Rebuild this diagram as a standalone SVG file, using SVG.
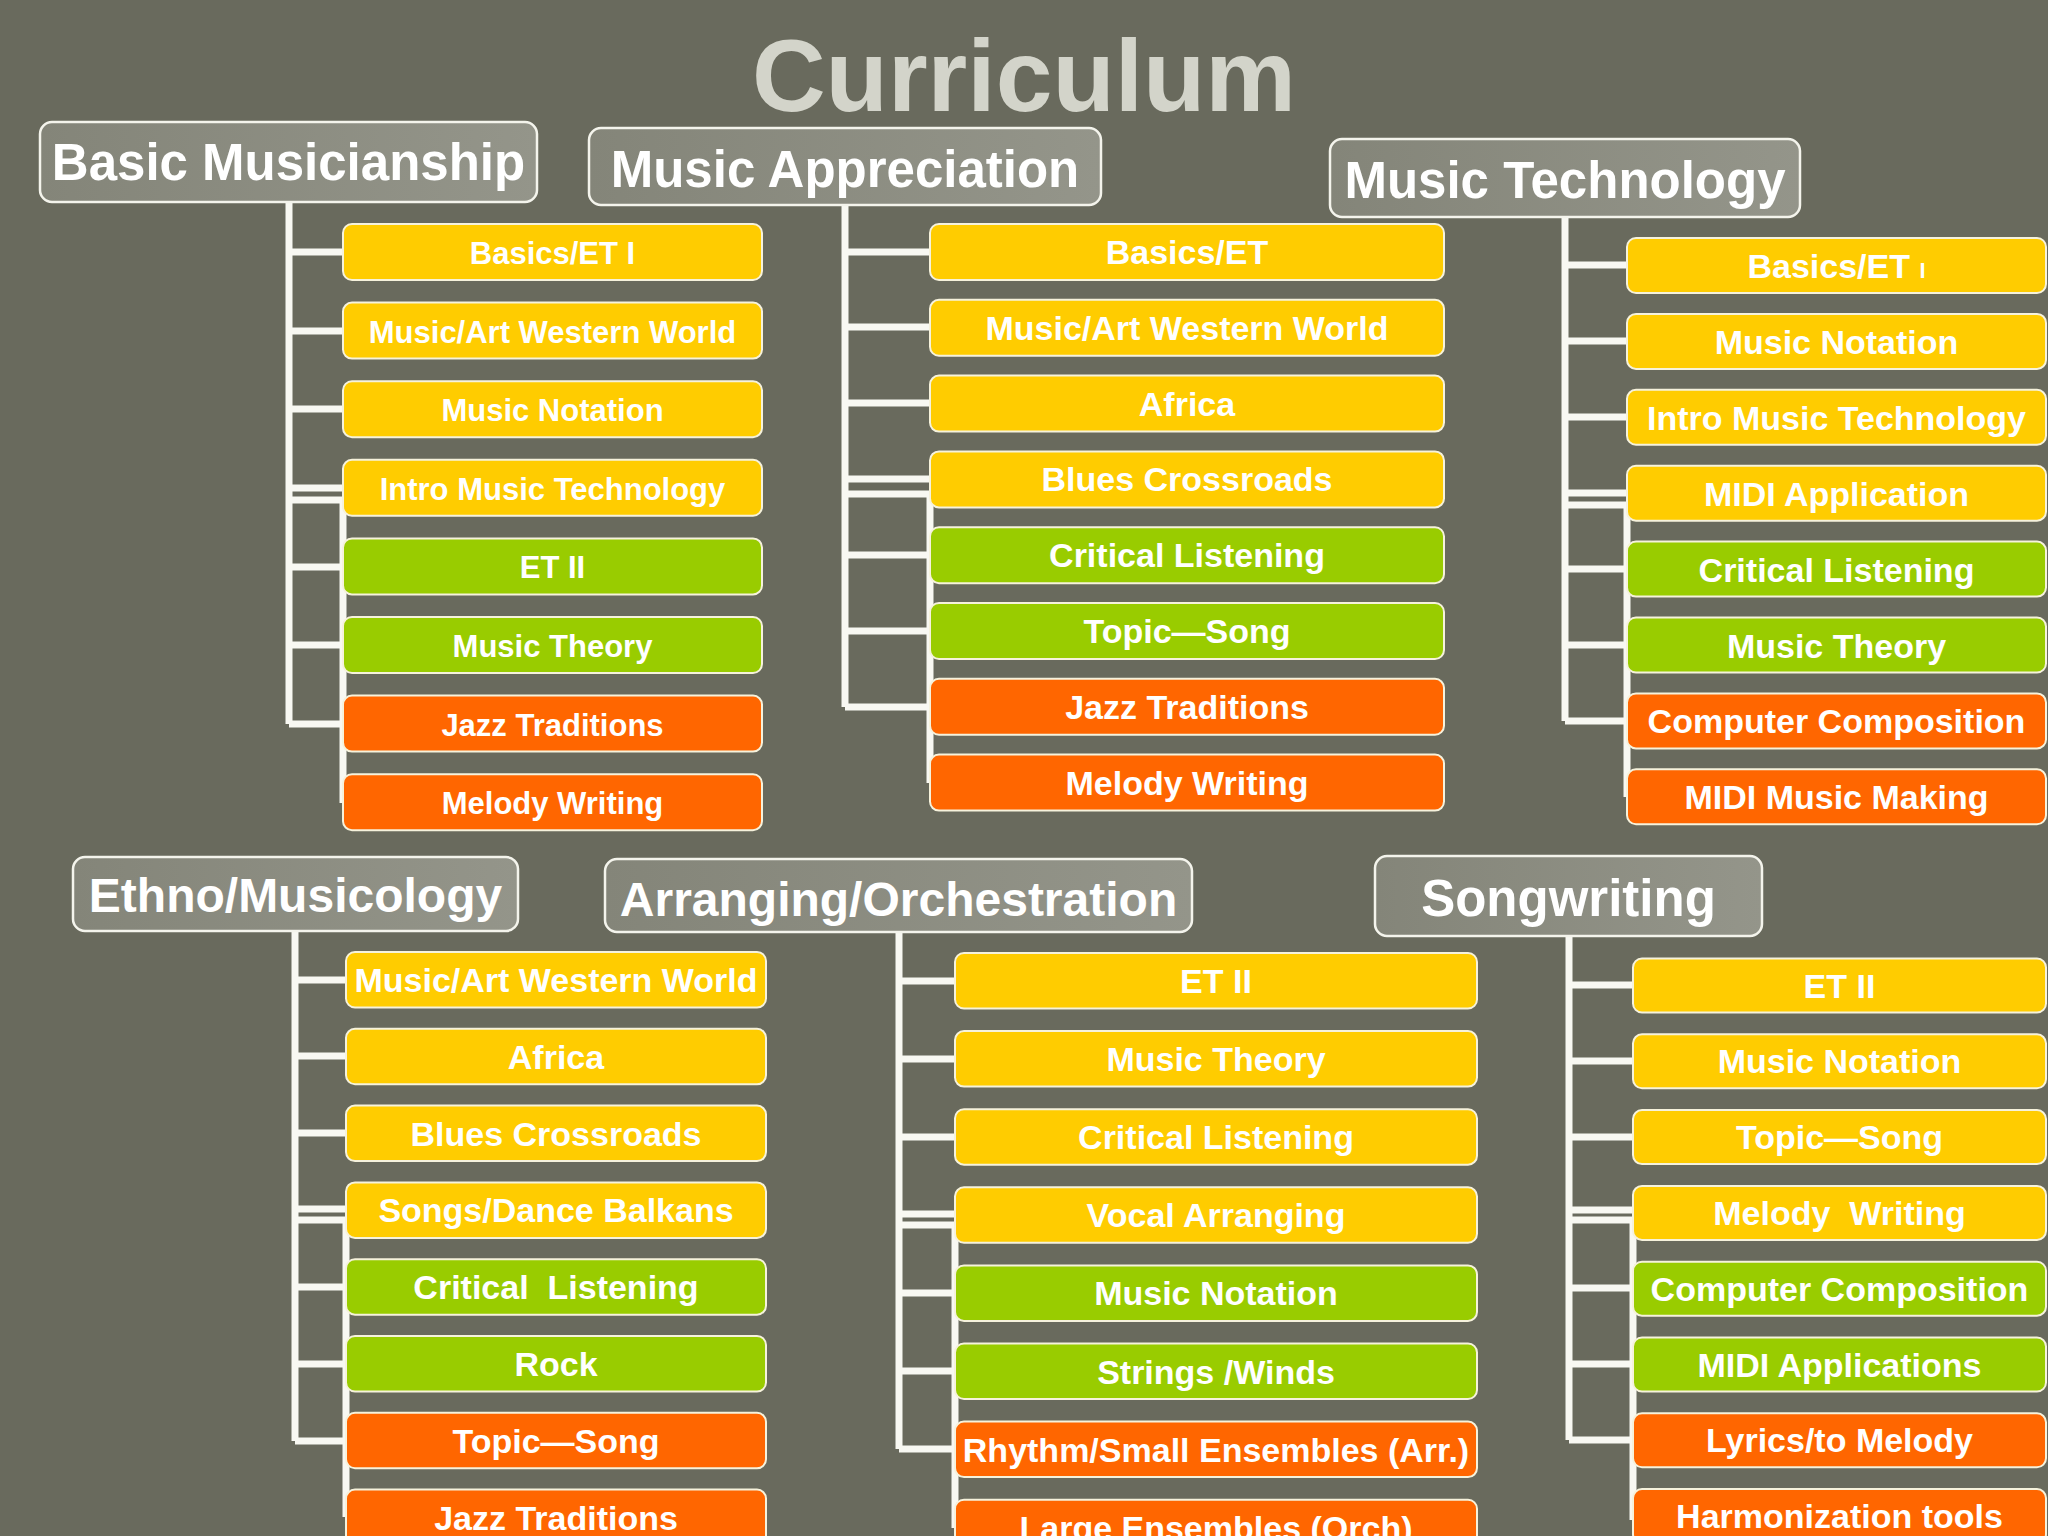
<svg xmlns="http://www.w3.org/2000/svg" width="2048" height="1536" viewBox="0 0 2048 1536">
<defs>
<linearGradient id="hg" x1="0" y1="0" x2="1" y2="0">
<stop offset="0" stop-color="#848579"/>
<stop offset="1" stop-color="#94958a"/>
</linearGradient>
<style>
.bg{fill:#696a5d}
.title{font-family:"Liberation Sans",Arial,sans-serif;font-weight:bold;font-size:102px;fill:#d3d4ca;text-anchor:middle}
.hd rect{fill:url(#hg);stroke:#f4f4ec;stroke-width:2.5}
.hd text{font-family:"Liberation Sans",Arial,sans-serif;font-weight:bold;fill:#ffffff;text-anchor:middle}
.it rect{stroke:#f6f2dc;stroke-width:2}
.it text{font-family:"Liberation Sans",Arial,sans-serif;font-weight:bold;fill:#ffffff;text-anchor:middle;white-space:pre}
.y rect{fill:#ffcc00}
.g rect{fill:#99cc00}
.o rect{fill:#ff6600}
.c31 text{font-size:31px}
.c34 text{font-size:34px}
#connectors path{fill:none;stroke:#f8f8f2;stroke-width:7}
</style>
</defs>
<rect class="bg" x="0" y="0" width="2048" height="1536"/>
<text class="title" x="1024" y="111">Curriculum</text>

<g id="connectors">
<path d="M289 202V724M289 252H343M289 331H343M289 409H343M289 488H343M289 567H343M289 645H343M289 724H343M289 500H343M343 500V803"/>
<path d="M845 205V707M845 252H930M845 327H930M845 403H930M845 479H930M845 555H930M845 631H930M845 707H930M845 494H930M930 494V783"/>
<path d="M1565 217V721M1565 265H1627M1565 341H1627M1565 417H1627M1565 493H1627M1565 569H1627M1565 645H1627M1565 721H1627M1565 505H1627M1627 505V797"/>
<path d="M295 931V1441M295 980H346M295 1056H346M295 1133H346M295 1209H346M295 1287H346M295 1364H346M295 1441H346M295 1220H346M346 1220V1517"/>
<path d="M899 932V1449M899 981H955M899 1059H955M899 1137H955M899 1214H955M899 1293H955M899 1371H955M899 1449H955M899 1225H955M955 1225V1528"/>
<path d="M1569 936V1440M1569 985H1633M1569 1061H1633M1569 1137H1633M1569 1210H1633M1569 1288H1633M1569 1364H1633M1569 1440H1633M1569 1220H1633M1633 1220V1520"/>
</g>

<g id="basic-musicianship" class="hd"><rect x="40" y="122" width="497" height="80" rx="12"/><text x="288.5" y="180" font-size="51">Basic Musicianship</text></g>
<g id="bm-items" class="c31">
<g id="bm1" class="it y"><rect x="343" y="224" width="419" height="56" rx="9"/><text x="552.5" y="264">Basics/ET I</text></g>
<g id="bm2" class="it y"><rect x="343" y="302.6" width="419" height="56" rx="9"/><text x="552.5" y="342.6">Music/Art Western World</text></g>
<g id="bm3" class="it y"><rect x="343" y="381.2" width="419" height="56" rx="9"/><text x="552.5" y="421.2">Music Notation</text></g>
<g id="bm4" class="it y"><rect x="343" y="459.8" width="419" height="56" rx="9"/><text x="552.5" y="499.8">Intro Music Technology</text></g>
<g id="bm5" class="it g"><rect x="343" y="538.4" width="419" height="56" rx="9"/><text x="552.5" y="578.4">ET II</text></g>
<g id="bm6" class="it g"><rect x="343" y="617" width="419" height="56" rx="9"/><text x="552.5" y="657">Music Theory</text></g>
<g id="bm7" class="it o"><rect x="343" y="695.6" width="419" height="56" rx="9"/><text x="552.5" y="735.6">Jazz Traditions</text></g>
<g id="bm8" class="it o"><rect x="343" y="774.2" width="419" height="56" rx="9"/><text x="552.5" y="814.2">Melody Writing</text></g>
</g>

<g id="music-appreciation" class="hd"><rect x="589" y="128" width="512" height="77" rx="12"/><text x="845" y="187" font-size="51">Music Appreciation</text></g>
<g id="ma-items" class="c34">
<g id="ma1" class="it y"><rect x="930" y="224" width="514" height="56" rx="9"/><text x="1187" y="264">Basics/ET</text></g>
<g id="ma2" class="it y"><rect x="930" y="299.8" width="514" height="56" rx="9"/><text x="1187" y="339.8">Music/Art Western World</text></g>
<g id="ma3" class="it y"><rect x="930" y="375.6" width="514" height="56" rx="9"/><text x="1187" y="415.6">Africa</text></g>
<g id="ma4" class="it y"><rect x="930" y="451.4" width="514" height="56" rx="9"/><text x="1187" y="491.4">Blues Crossroads</text></g>
<g id="ma5" class="it g"><rect x="930" y="527.2" width="514" height="56" rx="9"/><text x="1187" y="567.2">Critical Listening</text></g>
<g id="ma6" class="it g"><rect x="930" y="603" width="514" height="56" rx="9"/><text x="1187" y="643">Topic—Song</text></g>
<g id="ma7" class="it o"><rect x="930" y="678.8" width="514" height="56" rx="9"/><text x="1187" y="718.8">Jazz Traditions</text></g>
<g id="ma8" class="it o"><rect x="930" y="754.6" width="514" height="56" rx="9"/><text x="1187" y="794.6">Melody Writing</text></g>
</g>

<g id="music-technology" class="hd"><rect x="1330" y="139" width="470" height="78" rx="12"/><text x="1565" y="198" font-size="51">Music Technology</text></g>
<g id="mt-items" class="c34">
<g id="mt1" class="it y"><rect x="1627" y="238" width="419" height="55" rx="9"/><text x="1836.5" y="278">Basics/ET <tspan font-size="22">I</tspan></text></g>
<g id="mt2" class="it y"><rect x="1627" y="313.9" width="419" height="55" rx="9"/><text x="1836.5" y="353.9">Music Notation</text></g>
<g id="mt3" class="it y"><rect x="1627" y="389.8" width="419" height="55" rx="9"/><text x="1836.5" y="429.8">Intro Music Technology</text></g>
<g id="mt4" class="it y"><rect x="1627" y="465.7" width="419" height="55" rx="9"/><text x="1836.5" y="505.7">MIDI Application</text></g>
<g id="mt5" class="it g"><rect x="1627" y="541.6" width="419" height="55" rx="9"/><text x="1836.5" y="581.6">Critical Listening</text></g>
<g id="mt6" class="it g"><rect x="1627" y="617.5" width="419" height="55" rx="9"/><text x="1836.5" y="657.5">Music Theory</text></g>
<g id="mt7" class="it o"><rect x="1627" y="693.4" width="419" height="55" rx="9"/><text x="1836.5" y="733.4">Computer Composition</text></g>
<g id="mt8" class="it o"><rect x="1627" y="769.3" width="419" height="55" rx="9"/><text x="1836.5" y="809.3">MIDI Music Making</text></g>
</g>

<g id="ethno-musicology" class="hd"><rect x="73" y="857" width="445" height="74" rx="12"/><text x="295.5" y="912" font-size="48">Ethno/Musicology</text></g>
<g id="em-items" class="c34">
<g id="em1" class="it y"><rect x="346" y="952" width="420" height="55.5" rx="9"/><text x="556" y="992">Music/Art Western World</text></g>
<g id="em2" class="it y"><rect x="346" y="1028.8" width="420" height="55.5" rx="9"/><text x="556" y="1068.8">Africa</text></g>
<g id="em3" class="it y"><rect x="346" y="1105.6" width="420" height="55.5" rx="9"/><text x="556" y="1145.6">Blues Crossroads</text></g>
<g id="em4" class="it y"><rect x="346" y="1182.4" width="420" height="55.5" rx="9"/><text x="556" y="1222.4">Songs/Dance Balkans</text></g>
<g id="em5" class="it g"><rect x="346" y="1259.2" width="420" height="55.5" rx="9"/><text x="556" y="1299.2" xml:space="preserve">Critical  Listening</text></g>
<g id="em6" class="it g"><rect x="346" y="1336" width="420" height="55.5" rx="9"/><text x="556" y="1376">Rock</text></g>
<g id="em7" class="it o"><rect x="346" y="1412.8" width="420" height="55.5" rx="9"/><text x="556" y="1452.8">Topic—Song</text></g>
<g id="em8" class="it o"><rect x="346" y="1489.6" width="420" height="55.5" rx="9"/><text x="556" y="1529.6">Jazz Traditions</text></g>
</g>

<g id="arranging-orchestration" class="hd"><rect x="605" y="859" width="587" height="73" rx="12"/><text x="898.5" y="915.5" font-size="48">Arranging/Orchestration</text></g>
<g id="ao-items" class="c34">
<g id="ao1" class="it y"><rect x="955" y="953" width="522" height="55.5" rx="9"/><text x="1216" y="993">ET II</text></g>
<g id="ao2" class="it y"><rect x="955" y="1031.1" width="522" height="55.5" rx="9"/><text x="1216" y="1071.1">Music Theory</text></g>
<g id="ao3" class="it y"><rect x="955" y="1109.2" width="522" height="55.5" rx="9"/><text x="1216" y="1149.2">Critical Listening</text></g>
<g id="ao4" class="it y"><rect x="955" y="1187.3" width="522" height="55.5" rx="9"/><text x="1216" y="1227.3">Vocal Arranging</text></g>
<g id="ao5" class="it g"><rect x="955" y="1265.4" width="522" height="55.5" rx="9"/><text x="1216" y="1305.4">Music Notation</text></g>
<g id="ao6" class="it g"><rect x="955" y="1343.5" width="522" height="55.5" rx="9"/><text x="1216" y="1383.5">Strings /Winds</text></g>
<g id="ao7" class="it o"><rect x="955" y="1421.6" width="522" height="55.5" rx="9"/><text x="1216" y="1461.6">Rhythm/Small Ensembles (Arr.)</text></g>
<g id="ao8" class="it o"><rect x="955" y="1499.7" width="522" height="55.5" rx="9"/><text x="1216" y="1539.7">Large Ensembles (Orch)</text></g>
</g>

<g id="songwriting" class="hd"><rect x="1375" y="856" width="387" height="80" rx="12"/><text x="1568.5" y="916" font-size="51">Songwriting</text></g>
<g id="sw-items" class="c34">
<g id="sw1" class="it y"><rect x="1633" y="958.5" width="413" height="54" rx="9"/><text x="1839.5" y="997.5">ET II</text></g>
<g id="sw2" class="it y"><rect x="1633" y="1034.3" width="413" height="54" rx="9"/><text x="1839.5" y="1073.3">Music Notation</text></g>
<g id="sw3" class="it y"><rect x="1633" y="1110.1" width="413" height="54" rx="9"/><text x="1839.5" y="1149.1">Topic—Song</text></g>
<g id="sw4" class="it y"><rect x="1633" y="1185.9" width="413" height="54" rx="9"/><text x="1839.5" y="1224.9" xml:space="preserve">Melody  Writing</text></g>
<g id="sw5" class="it g"><rect x="1633" y="1261.7" width="413" height="54" rx="9"/><text x="1839.5" y="1300.7">Computer Composition</text></g>
<g id="sw6" class="it g"><rect x="1633" y="1337.5" width="413" height="54" rx="9"/><text x="1839.5" y="1376.5">MIDI Applications</text></g>
<g id="sw7" class="it o"><rect x="1633" y="1413.3" width="413" height="54" rx="9"/><text x="1839.5" y="1452.3">Lyrics/to Melody</text></g>
<g id="sw8" class="it o"><rect x="1633" y="1489.1" width="413" height="54" rx="9"/><text x="1839.5" y="1528.1">Harmonization tools</text></g>
</g>
</svg>
